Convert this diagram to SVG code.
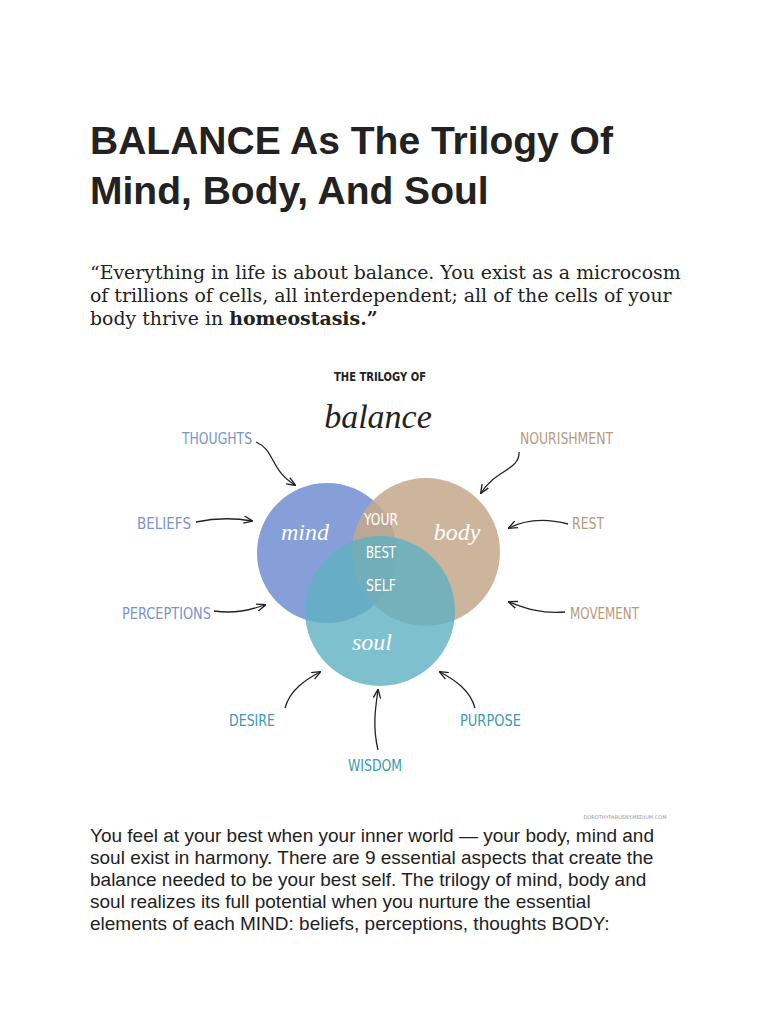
<svg xmlns="http://www.w3.org/2000/svg" width="768" height="1024" viewBox="0 0 768 1024">
<style>
.h{font-family:"Liberation Sans",Arial,sans-serif;font-weight:bold;font-size:39px;fill:#222}
.q{font-family:"DejaVu Serif",serif;font-size:18.9px;fill:#222}
.b{font-family:"Liberation Sans",Arial,sans-serif;font-size:19px;fill:#222}
.l{font-family:"DejaVu Sans",sans-serif;font-size:15px}
.c{font-family:"DejaVu Sans",sans-serif;font-size:16px;fill:#fff;text-anchor:middle}
.s{font-family:"Liberation Serif",cursive;font-style:italic;font-size:24px;fill:#fff;text-anchor:middle}
.a{fill:none;stroke:#222;stroke-width:1.3;marker-end:url(#ar)}
</style>
<defs><marker id="ar" viewBox="0 0 10 10" refX="9" refY="5" markerWidth="7" markerHeight="7" orient="auto"><path d="M0,1 L10,5 L0,9" fill="none" stroke="#222" stroke-width="1.5"/></marker></defs>
<rect width="768" height="1024" fill="#fff"/>
<text class="h" x="90" y="154">BALANCE As The Trilogy Of</text>
<text class="h" x="90" y="204">Mind, Body, And Soul</text>
<text class="q" x="90" y="279">“Everything in life is about balance. You exist as a microcosm</text>
<text class="q" x="90" y="302">of trillions of cells, all interdependent; all of the cells of your</text>
<text class="q" x="90" y="325">body thrive in <tspan font-weight="bold">homeostasis.”</tspan></text>
<text x="380" y="381" text-anchor="middle" textLength="92" lengthAdjust="spacingAndGlyphs" style="font-family:'DejaVu Sans',sans-serif;font-size:13px;font-weight:bold;fill:#222">THE TRILOGY OF</text>
<text x="378" y="428" text-anchor="middle" style="font-family:'Liberation Serif',serif;font-style:italic;font-size:34px;fill:#222">balance</text>
<g id="mind"><circle cx="327" cy="553" r="70" fill="#7f9ad6" fill-opacity="0.95"/></g>
<g id="body"><circle cx="426" cy="552" r="74" fill="#c4a88a" fill-opacity="0.85"/></g>
<g id="soul"><circle cx="380" cy="611" r="75" fill="#5fb0c2" fill-opacity="0.8"/></g>
<text class="s" x="305" y="540">mind</text>
<text class="s" x="457" y="540">body</text>
<text class="s" x="372" y="650">soul</text>
<text class="c" x="381" y="525" textLength="34" lengthAdjust="spacingAndGlyphs">YOUR</text>
<text class="c" x="381" y="558" textLength="30" lengthAdjust="spacingAndGlyphs">BEST</text>
<text class="c" x="381" y="591" textLength="30" lengthAdjust="spacingAndGlyphs">SELF</text>
<g id="labels">
<text class="l" x="182" y="444" fill="#7a93cc" textLength="70" lengthAdjust="spacingAndGlyphs">THOUGHTS</text>
<text class="l" x="137" y="529" fill="#7a93cc" textLength="54" lengthAdjust="spacingAndGlyphs">BELIEFS</text>
<text class="l" x="122" y="619" fill="#7a93cc" textLength="89" lengthAdjust="spacingAndGlyphs">PERCEPTIONS</text>
<text class="l" x="520" y="444" fill="#b89a7a" textLength="93" lengthAdjust="spacingAndGlyphs">NOURISHMENT</text>
<text class="l" x="572" y="529" fill="#b89a7a" textLength="32" lengthAdjust="spacingAndGlyphs">REST</text>
<text class="l" x="570" y="619" fill="#b89a7a" textLength="69" lengthAdjust="spacingAndGlyphs">MOVEMENT</text>
<text class="l" x="229" y="726" fill="#3b9aae" textLength="46" lengthAdjust="spacingAndGlyphs">DESIRE</text>
<text class="l" x="460" y="726" fill="#3b9aae" textLength="61" lengthAdjust="spacingAndGlyphs">PURPOSE</text>
<text class="l" x="348" y="771" fill="#3b9aae" textLength="54" lengthAdjust="spacingAndGlyphs">WISDOM</text>
</g>
<g id="connectors">
<path class="a" d="M256,442 C275,450 270,470 295,485"/>
<path class="a" d="M196,522 C215,518 235,518 252,521"/>
<path class="a" d="M214,611 C235,614 250,610 265,605"/>
<path class="a" d="M519,452 C520,470 495,470 481,493"/>
<path class="a" d="M568,524 C545,518 525,520 509,528"/>
<path class="a" d="M565,612 C540,614 525,608 509,602"/>
<path class="a" d="M285,708 C290,690 305,680 320,672"/>
<path class="a" d="M475,708 C470,690 455,680 440,672"/>
<path class="a" d="M378,750 C372,725 376,705 378,690"/>
</g>
<text x="625" y="819" text-anchor="middle" style="font-family:'DejaVu Sans',sans-serif;font-size:5px;fill:#999">DOROTHYPARUSNY.MEDIUM.COM</text>
<text class="b" x="90" y="842">You feel at your best when your inner world — your body, mind and</text>
<text class="b" x="90" y="864">soul exist in harmony. There are 9 essential aspects that create the</text>
<text class="b" x="90" y="886">balance needed to be your best self. The trilogy of mind, body and</text>
<text class="b" x="90" y="908">soul realizes its full potential when you nurture the essential</text>
<text class="b" x="90" y="930">elements of each MIND: beliefs, perceptions, thoughts BODY:</text>
</svg>
